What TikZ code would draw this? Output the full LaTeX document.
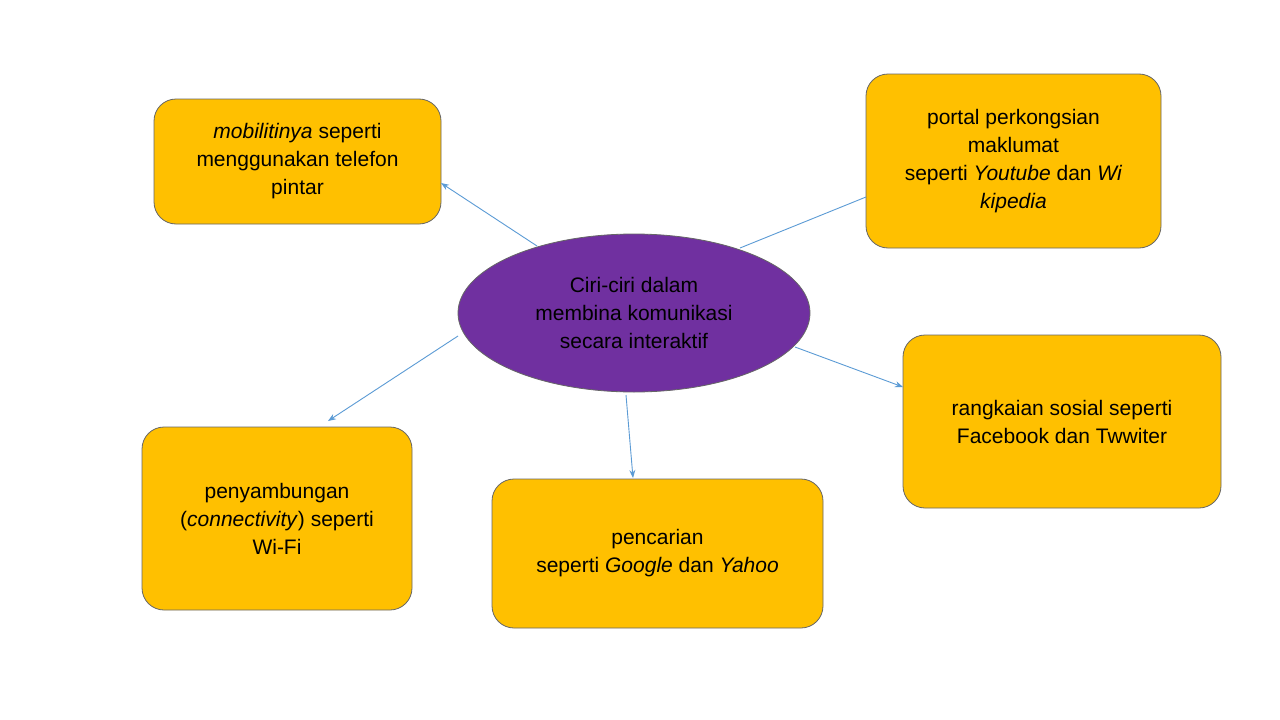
\documentclass[tikz,border=0pt]{standalone}
\usepackage{fontspec}
\setmainfont{Liberation Sans}
\usetikzlibrary{arrows.meta,shapes.geometric}
\definecolor{boxy}{HTML}{FFC000}
\definecolor{purp}{HTML}{7030A0}
\definecolor{lnk}{HTML}{5B9BD5}
\begin{document}
\begin{tikzpicture}[x=1pt,y=-1pt,
  bx/.style={draw=black!60,line width=0.8pt,fill=boxy,rounded corners=22pt,align=center,font=\fontsize{21}{28}\selectfont,inner sep=0pt},
  lk/.style={draw=lnk,line width=0.9pt},
  ar/.style={lk,-{Stealth[length=8pt,width=6pt]}}]
\useasboundingbox (0,0) rectangle (1280,720);
\fill[white] (0,0) rectangle (1280,720);
\node[bx,minimum width=287pt,minimum height=125pt] (tl) at (297.5,161.5) {\textit{mobilitinya} seperti\\menggunakan telefon\\pintar};
\node[bx,minimum width=295pt,minimum height=174pt] (tr) at (1013.5,161) {portal perkongsian\\maklumat\\seperti \textit{Youtube} dan \textit{Wi}\\\textit{kipedia}};
\node[bx,minimum width=318pt,minimum height=173pt] (r) at (1062,421.5) {rangkaian sosial seperti\\Facebook dan Twwiter};
\node[bx,minimum width=331pt,minimum height=149pt] (b) at (657.5,553.5) {pencarian\\seperti \textit{Google} dan \textit{Yahoo}};
\node[bx,minimum width=270pt,minimum height=183pt] (bl) at (277,518.5) {penyambungan\\(\textit{connectivity}) seperti\\Wi-Fi};
\node[ellipse,draw=black!60,line width=0.8pt,fill=purp,minimum width=352pt,minimum height=158pt,inner sep=0pt,align=center,font=\fontsize{21}{28}\selectfont] (c) at (634,313) {Ciri-ciri dalam\\membina komunikasi\\secara interaktif};
\coordinate (c1) at (537,246); \coordinate (t1) at (441,183);
\coordinate (c2) at (740,248); \coordinate (t2) at (866,197);
\coordinate (c3) at (795,347); \coordinate (t3) at (903,387);
\coordinate (c4) at (626,395); \coordinate (t4) at (633,478);
\coordinate (c5) at (458,336); \coordinate (t5) at (328,421);
\draw[ar] (c1) -- (t1);
\draw[lk] (c2) -- (t2);
\draw[ar] (c3) -- (t3);
\draw[ar] (c4) -- (t4);
\draw[ar] (c5) -- (t5);
\end{tikzpicture}
\end{document}
